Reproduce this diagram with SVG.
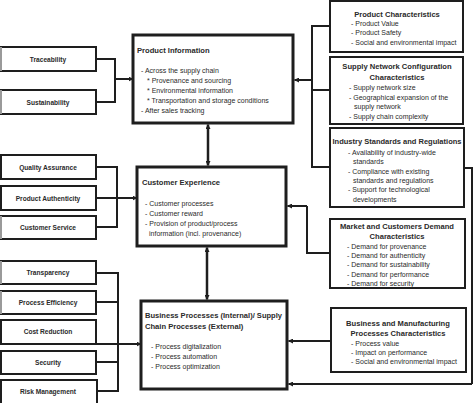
<svg xmlns="http://www.w3.org/2000/svg" width="474" height="403" viewBox="0 0 474 403">
<defs>
<marker id="ah" viewBox="0 0 10 10" refX="9" refY="5" markerWidth="5" markerHeight="5" markerUnits="userSpaceOnUse" orient="auto-start-reverse">
<path d="M0,0 L10,5 L0,10 z" fill="#1e1e1e"/>
</marker>
<style>
.sb{fill:#fff;stroke:#1e1e1e;stroke-width:2}
.cb{fill:#fff;stroke:#1e1e1e;stroke-width:3}
.rb{fill:#fff;stroke:#1e1e1e;stroke-width:2}
.gl{stroke:#9a9a9a;stroke-width:2}
.c{fill:none;stroke:#1e1e1e;stroke-width:2}
.ca{fill:none;stroke:#1e1e1e;stroke-width:2;marker-end:url(#ah)}
.cd{fill:none;stroke:#1e1e1e;stroke-width:2.5;marker-end:url(#ah);marker-start:url(#ah)}
text{font-family:"Liberation Sans",Arial,sans-serif;fill:#2a2a2a}
.lb{font-size:6.6px;font-weight:bold;text-anchor:middle}
.ct{font-size:7.6px;font-weight:bold}
.ci{font-size:7px}
.rt{font-size:7.6px;font-weight:bold;text-anchor:middle}
.ri{font-size:7px}
</style>
</defs>

<g id="connectors">
<path class="c" d="M96,59 H115 V102 H96"/>
<path class="ca" d="M115,79 H133"/>
<path class="c" d="M96,167 H117 V227 H96"/>
<path class="ca" d="M96,198 H137"/>
<path class="c" d="M96,273 H118 V391 H97"/>
<path class="c" d="M96,302 H118"/>
<path class="c" d="M96,362 H118"/>
<path class="ca" d="M96,344 H141"/>
<path class="cd" d="M208,124.5 V165.5"/>
<path class="cd" d="M207,247.5 V299.5"/>
<path class="c" d="M330,26 H312 V167 H330"/>
<path class="c" d="M312,90 H330"/>
<path class="ca" d="M312,80 H294.5"/>
<path class="c" d="M330,253 H307 V206"/>
<path class="ca" d="M307,206 H287.5"/>
<path class="ca" d="M331,341 H288.5"/>
<path class="c" d="M464,168 H472 V384"/>
<path class="ca" d="M472,384 H288.5"/>
</g>

<g id="traceability">
<rect class="sb" x="1" y="47" width="95" height="24"/><line class="gl" x1="1" y1="47" x2="1" y2="71"/>
<text class="lb" x="48" y="61.5">Traceability</text>
</g>
<g id="sustainability">
<rect class="sb" x="1" y="90" width="95" height="24"/><line class="gl" x1="1" y1="90" x2="1" y2="114"/>
<text class="lb" x="48" y="104.5">Sustainability</text>
</g>
<g id="quality-assurance">
<rect class="sb" x="1" y="155" width="95" height="24"/>
<text class="lb" x="48" y="169.5">Quality Assurance</text>
</g>
<g id="product-authenticity">
<rect class="sb" x="1" y="186" width="95" height="24"/>
<text class="lb" x="48" y="200.5">Product Authenticity</text>
</g>
<g id="customer-service">
<rect class="sb" x="1" y="216" width="95" height="23"/><line class="gl" x1="1" y1="216" x2="1" y2="239"/>
<text class="lb" x="48" y="230">Customer Service</text>
</g>
<g id="transparency">
<rect class="sb" x="1" y="261" width="95" height="23"/><line class="gl" x1="1" y1="261" x2="1" y2="284"/>
<text class="lb" x="48" y="275">Transparency</text>
</g>
<g id="process-efficiency">
<rect class="sb" x="1" y="291" width="95" height="23"/><line class="gl" x1="1" y1="291" x2="1" y2="314"/>
<text class="lb" x="48" y="305">Process Efficiency</text>
</g>
<g id="cost-reduction">
<rect class="sb" x="1" y="320" width="95" height="24"/>
<text class="lb" x="48" y="334">Cost Reduction</text>
</g>
<g id="security">
<rect class="sb" x="1" y="351" width="95" height="23"/>
<text class="lb" x="48" y="365">Security</text>
</g>
<g id="risk-management">
<rect class="sb" x="1" y="380" width="96" height="25"/>
<text class="lb" x="48" y="394">Risk Management</text>
</g>

<g id="product-information">
<rect class="cb" x="133" y="35" width="160" height="88"/>
<text class="ct" x="137" y="53">Product Information</text>
<text class="ci" x="141" y="72.5">- Across the supply chain</text>
<text class="ci" x="147" y="82.5">* Provenance and sourcing</text>
<text class="ci" x="147" y="92.5">* Environmental information</text>
<text class="ci" x="147" y="102.5">* Transportation and storage conditions</text>
<text class="ci" x="141" y="112.5">- After sales tracking</text>
</g>

<g id="customer-experience">
<rect class="cb" x="137" y="167" width="149" height="79"/>
<text class="ct" x="142" y="185">Customer Experience</text>
<text class="ci" x="145" y="205.5">- Customer processes</text>
<text class="ci" x="145" y="215.5">- Customer reward</text>
<text class="ci" x="145" y="225.5">- Provision of product/process</text>
<text class="ci" x="149" y="235.5">information (incl. provenance)</text>
</g>

<g id="business-processes">
<rect class="cb" x="141" y="301" width="146" height="88"/>
<text class="ct" x="145" y="318" textLength="137" lengthAdjust="spacingAndGlyphs">Business Processes (Internal)/ Supply</text>
<text class="ct" x="145" y="329">Chain Processes (External)</text>
<text class="ci" x="151" y="348.5">- Process digitalization</text>
<text class="ci" x="151" y="358.5">- Process automation</text>
<text class="ci" x="151" y="368.5">- Process optimization</text>
</g>

<g id="product-characteristics">
<rect class="rb" x="330" y="1" width="133" height="51"/>
<text class="rt" x="397" y="16.5">Product Characteristics</text>
<text class="ri" x="351" y="25.5">- Product Value</text>
<text class="ri" x="351" y="35">- Product Safety</text>
<text class="ri" x="351" y="44.5">- Social and environmental impact</text>
</g>

<g id="supply-network">
<rect class="rb" x="330" y="57" width="133" height="67"/>
<text class="rt" x="397" y="68.5">Supply Network Configuration</text>
<text class="rt" x="397" y="79.5">Characteristics</text>
<text class="ri" x="349" y="89.5">- Supply network size</text>
<text class="ri" x="349" y="99.5">- Geographical expansion of the</text>
<text class="ri" x="354" y="109">supply network</text>
<text class="ri" x="349" y="118.5">- Supply chain complexity</text>
</g>

<g id="industry-standards">
<rect class="rb" x="330" y="128" width="134" height="79"/>
<text class="rt" x="397" y="143.5" textLength="129" lengthAdjust="spacingAndGlyphs">Industry Standards and Regulations</text>
<text class="ri" x="348" y="154.5">- Availability of industry-wide</text>
<text class="ri" x="353" y="164">standards</text>
<text class="ri" x="348" y="173.5">- Compliance with existing</text>
<text class="ri" x="353" y="182.5">standards and regulations</text>
<text class="ri" x="348" y="192">- Support for technological</text>
<text class="ri" x="353" y="201.5">developments</text>
</g>

<g id="market-demand">
<rect class="rb" x="330" y="219" width="135" height="69"/>
<text class="rt" x="397" y="228.5">Market and Customers Demand</text>
<text class="rt" x="397" y="238.5">Characteristics</text>
<text class="ri" x="347" y="248.5">- Demand for provenance</text>
<text class="ri" x="347" y="258">- Demand for authenticity</text>
<text class="ri" x="347" y="267">- Demand for sustainability</text>
<text class="ri" x="347" y="276.5">- Demand for performance</text>
<text class="ri" x="347" y="286">- Demand for security</text>
</g>

<g id="business-manufacturing">
<rect class="rb" x="331" y="308" width="135" height="64"/>
<text class="rt" x="398" y="325.5">Business and Manufacturing</text>
<text class="rt" x="398" y="335.5">Processes Characteristics</text>
<text class="ri" x="351" y="345.5">- Process value</text>
<text class="ri" x="351" y="354.5">- Impact on performance</text>
<text class="ri" x="351" y="363.5" textLength="106" lengthAdjust="spacingAndGlyphs">- Social and environmental impact</text>
</g>
</svg>
